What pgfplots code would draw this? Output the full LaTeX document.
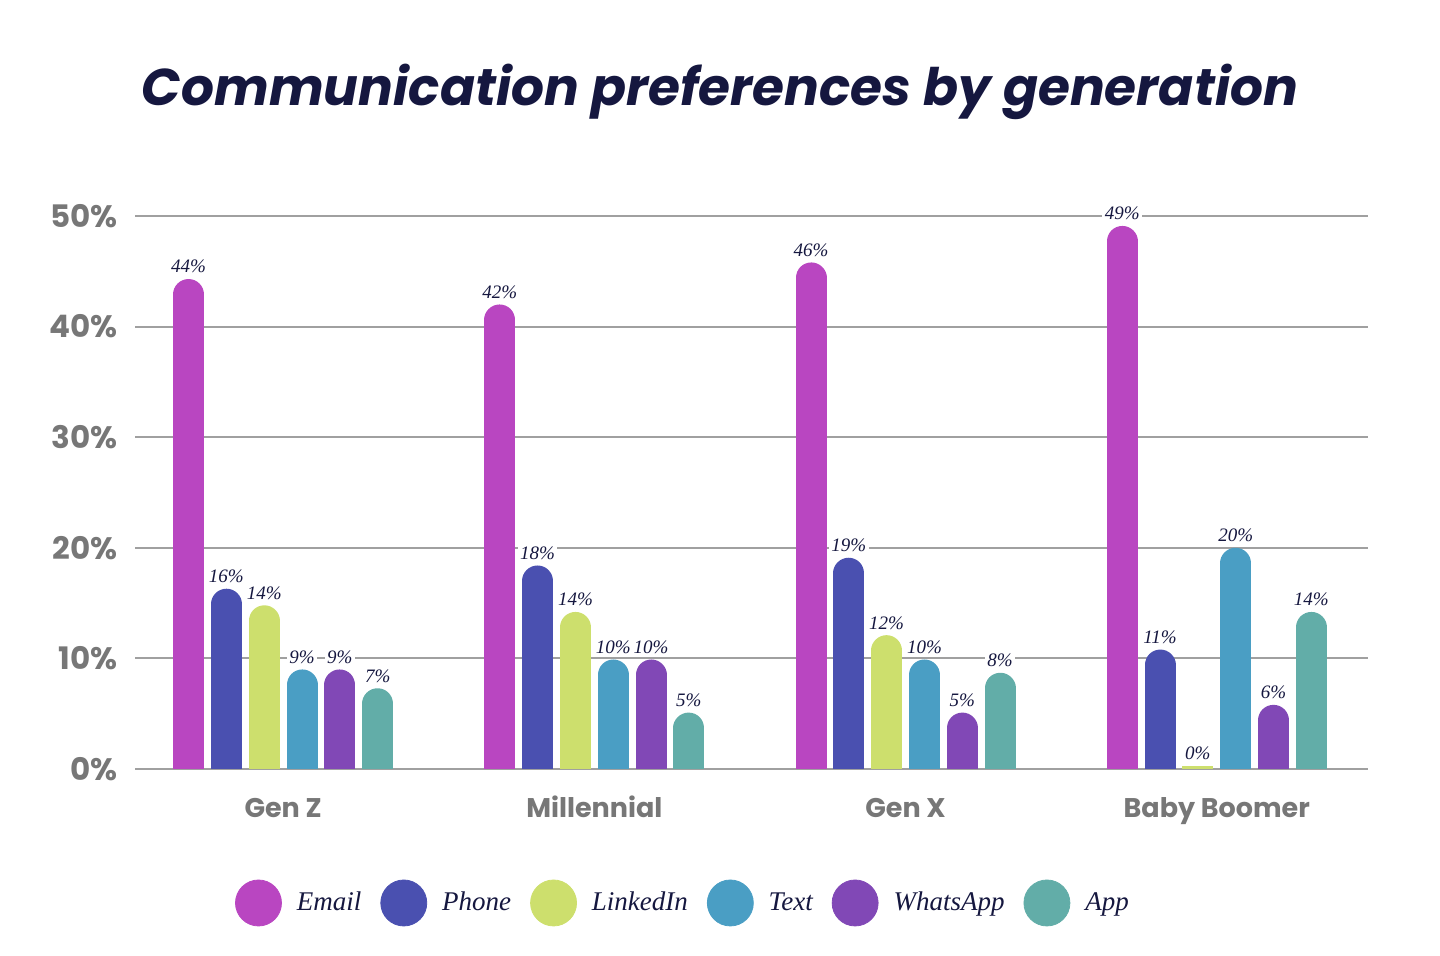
\documentclass[border=0pt]{standalone}
\usepackage{pgfplots}
\usepackage{pgfplotstable}
\pgfplotsset{compat=1.18}
\usepackage{fontspec}
\newfontfamily\popp{Poppins}
\newfontfamily\serif{Liberation Serif}
\definecolor{emailc}{HTML}{B946C1}
\definecolor{phonec}{HTML}{4A50B0}
\definecolor{linkc}{HTML}{CDDF6D}
\definecolor{textc}{HTML}{4A9EC4}
\definecolor{whatc}{HTML}{8148B6}
\definecolor{appc}{HTML}{62ADA8}
\definecolor{navy}{HTML}{15173F}
\definecolor{tickgray}{HTML}{777777}
\definecolor{gridgray}{HTML}{A0A0A0}
\pgfplotsset{
  legcirc/.style={legend image code/.code={\fill[#1] (11.5pt,0pt) circle (11.5pt);}},
  barq/.style={forget plot, quiver={u=0,v=\thisrow{v}}, draw=#1, line width=15.5pt, line cap=round, shorten >=7.75pt},
  labp/.style={forget plot, draw=none, mark=none, nodes near coords={\pgfplotspointmeta\%}, point meta=explicit symbolic},
}
\pgfplotstableread{
g v lab
0 44.3 44
1 42.0 42
2 45.8 46
3 49.1 49
}\emaild
\pgfplotstableread{
g v lab
0 16.3 16
1 18.4 18
2 19.1 19
3 10.8 11
}\phoned
\pgfplotstableread{
g v lab
0 14.8 14
1 14.2 14
2 12.1 12
3 0.3 0
}\linkd
\pgfplotstableread{
g v lab
0 9.0 9
1 9.9 10
2 9.9 10
3 20.0 20
}\textd
\pgfplotstableread{
g v lab
0 9.0 9
1 9.9 10
2 5.1 5
3 5.8 6
}\whatd
\pgfplotstableread{
g v lab
0 7.3 7
1 5.1 5
2 8.7 8
3 14.2 14
}\appd
\begin{document}
\begin{tikzpicture}
\path[use as bounding box] (0,0) rectangle (720pt,478pt);
\node[anchor=center] at (360pt,432pt) {\resizebox{578pt}{!}{\color{navy}\popp\bfseries\itshape Communication preferences by generation}};
\begin{axis}[
  at={(67.5pt,93.5pt)}, anchor=south west,
  scale only axis, width=616.5pt, height=276.5pt,
  xmin=-0.476, xmax=3.486, ymin=0, ymax=50,
  axis line style={draw=none},
  major tick length=0pt,
  ytick={0,10,20,30,40,50},
  yticklabel={\pgfmathprintnumber{\tick}\%},
  xtick={0,1,2,3},
  xticklabels={Gen Z,Millennial,Gen X,Baby Boomer},
  ymajorgrids, grid style={draw=gridgray, line width=1pt},
  /pgf/number format/assume math mode=true,
  yticklabel style={font=\popp\bfseries\fontsize{15.5}{18}\selectfont, text=tickgray, inner sep=0pt, xshift=-8.5pt},
  xticklabel style={font=\popp\bfseries\fontsize{13.5}{16}\selectfont, text=tickgray, inner sep=0pt, anchor=base, yshift=-24.5pt},
  legend style={at={(0.4436,-0.2423)}, anchor=center, draw=none, fill=none, legend columns=6,
    font=\serif\itshape\fontsize{13.5}{16}\selectfont, text=navy, nodes={inner sep=0pt},
    /tikz/every odd column/.append style={column sep=7.5pt},
    /tikz/every even column/.append style={column sep=9.5pt}},
  every node near coord/.append style={font=\serif\itshape\fontsize{9.5}{11}\selectfont, text=navy, fill=white, inner sep=1.2pt, anchor=south, yshift=1.5pt},
]
\addlegendimage{legcirc=emailc}
\addlegendimage{legcirc=phonec}
\addlegendimage{legcirc=linkc}
\addlegendimage{legcirc=textc}
\addlegendimage{legcirc=whatc}
\addlegendimage{legcirc=appc}
\legend{Email,Phone,LinkedIn,Text,WhatsApp,App}

\addplot[barq=emailc] table[x expr=\thisrow{g}-0.3038, y expr=0] {\emaild};
\addplot[barq=phonec] table[x expr=\thisrow{g}-0.1823, y expr=0] {\phoned};
\addplot[barq=linkc, skip coords between index={3}{4}] table[x expr=\thisrow{g}-0.0608, y expr=0] {\linkd};
\addplot[forget plot, ybar, bar width=15.5pt, bar shift=0pt, fill=linkc, draw=none] table[x expr=\thisrow{g}-0.0608, y=v, skip coords between index={0}{3}] {\linkd};
\addplot[barq=textc] table[x expr=\thisrow{g}+0.0608, y expr=0] {\textd};
\addplot[barq=whatc] table[x expr=\thisrow{g}+0.1823, y expr=0] {\whatd};
\addplot[barq=appc] table[x expr=\thisrow{g}+0.3038, y expr=0] {\appd};

\addplot[labp] table[x expr=\thisrow{g}-0.3038, y=v, meta=lab] {\emaild};
\addplot[labp] table[x expr=\thisrow{g}-0.1823, y=v, meta=lab] {\phoned};
\addplot[labp] table[x expr=\thisrow{g}-0.0608, y=v, meta=lab] {\linkd};
\addplot[labp] table[x expr=\thisrow{g}+0.0608, y=v, meta=lab] {\textd};
\addplot[labp] table[x expr=\thisrow{g}+0.1823, y=v, meta=lab] {\whatd};
\addplot[labp] table[x expr=\thisrow{g}+0.3038, y=v, meta=lab] {\appd};
\end{axis}
\end{tikzpicture}
\end{document}
